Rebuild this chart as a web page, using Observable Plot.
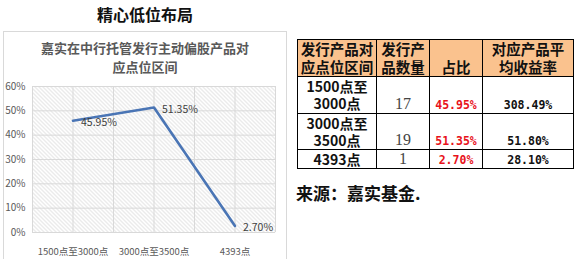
<!DOCTYPE html>
<html><head><meta charset="utf-8">
<script src="https://cdn.jsdelivr.net/npm/d3@7"></script>
<script src="https://cdn.jsdelivr.net/npm/@observablehq/plot@0.6"></script>
<style>
body{margin:0;background:#fff;width:577px;height:259px;overflow:hidden;position:relative;font-family:"Noto Sans CJK SC",sans-serif;}
#title{position:absolute;left:0;width:290px;top:3px;text-align:center;font-weight:bold;font-size:16px;color:#111;line-height:22px;}
#box{position:absolute;left:3px;top:31px;width:282px;height:240px;border:1px solid #d9d9d9;}
#ctitle{position:absolute;left:0;width:290px;top:38px;text-align:center;font-weight:bold;font-size:13px;color:#595959;line-height:19px;}
#chart{position:absolute;left:0;top:72px;}
table{position:absolute;left:297px;top:39px;border-collapse:collapse;table-layout:fixed;}
td{border:1.5px solid #000;padding:0;text-align:center;vertical-align:bottom;}
th{border:1.5px solid #000;padding:0;background:#FAC28E;font-weight:bold;font-size:14.5px;line-height:18px;vertical-align:bottom;color:#111;white-space:nowrap;}
.c1{font-weight:bold;font-size:14px;line-height:17px;vertical-align:middle;color:#111;}
.c2{font-family:"Liberation Serif",serif;font-size:16px;color:#444;line-height:18px;}
.c3{font-family:"DejaVu Sans Mono",monospace;font-weight:bold;font-size:11.5px;color:#e8121b;line-height:16px;}
.c4{font-family:"DejaVu Sans Mono",monospace;font-weight:bold;font-size:11.5px;color:#111;line-height:16px;}
#src{position:absolute;left:296px;top:181px;font-weight:bold;font-size:17px;color:#111;line-height:24px;}
</style></head>
<body>
<div id="title">精心低位布局</div>
<div id="box"></div>
<div id="ctitle">嘉实在中行托管发行主动偏股产品对<br>应点位区间</div>
<div id="chart"></div>
<table id="tbl"></table>
<div id="src">来源：嘉实基金.</div>
<script>
const categories = ["1500点至3000点", "3000点至3500点", "4393点"];
const shares = [45.95, 51.35, 2.70];
const shareLabels = ["45.95%", "51.35%", "2.70%"];
const yTicks = [0, 10, 20, 30, 40, 50, 60];

const headers = ["发行产品对应点位区间", "发行产品数量", "占比", "对应产品平均收益率"];
const headerLines = [["发行产品对", "应点位区间"], ["发行产", "品数量"], ["占比"], ["对应产品平", "均收益率"]];
const rangeLines = [["1500点至", "3000点"], ["3000点至", "3500点"], ["4393点"]];
const counts = [17, 19, 1];
const shareText = ["45.95%", "51.35%", "2.70%"];
const avgReturns = ["308.49%", "51.80%", "28.10%"];

const data = categories.map((c, i) => ({i, c, v: shares[i], label: shareLabels[i]}));
const gridX = d3.range(-0.5, categories.length, 0.5);

const chart = Plot.plot({
  width: 290, height: 187,
  marginLeft: 32, marginRight: 15, marginTop: 14, marginBottom: 27,
  style: {fontFamily: "'Noto Sans CJK SC', sans-serif", fontSize: "10px", color: "#595959", background: "transparent"},
  x: {domain: [-0.5, categories.length - 0.5], axis: null},
  y: {domain: [0, 60], axis: null},
  marks: [
    Plot.frame({fill: "url(#hatch)", stroke: "none"}),
    Plot.ruleY(yTicks, {stroke: "#d9d9d9", strokeWidth: 1}),
    Plot.ruleX(gridX, {stroke: "#d9d9d9", strokeWidth: 1}),
    Plot.axisY(yTicks, {label: null, tickSize: 0, tickPadding: 7, tickFormat: d => d + "%", fill: "#595959", fontSize: 10}),
    Plot.axisX(d3.range(categories.length), {label: null, tickSize: 0, tickPadding: 16, tickFormat: i => categories[i], fill: "#595959", fontSize: 9.5}),
    Plot.line(data, {x: "i", y: "v", stroke: "#4A75B5", strokeWidth: 2.6}),
    Plot.text(data, {x: "i", y: "v", text: "label", textAnchor: "start", dx: 8, dy: 2, fill: "#404040", fontSize: 10.5})
  ]
});
const defs = d3.select(chart).insert("defs", ":first-child");
const pat = defs.append("pattern").attr("id", "hatch").attr("patternUnits", "userSpaceOnUse")
  .attr("width", 4).attr("height", 4);
pat.append("rect").attr("width", 4).attr("height", 4).attr("fill", "#fff");
pat.append("path").attr("d", "M-1,-1 L5,5 M-1,3 L1,5 M3,-1 L5,1").attr("stroke", "#d6d6d6").attr("stroke-width", 1);
document.getElementById("chart").appendChild(chart);

// table
const tbl = document.getElementById("tbl");
const colWidths = [79, 53, 53, 91];
const cg = document.createElement("colgroup");
colWidths.forEach(w => { const c = document.createElement("col"); c.style.width = w + "px"; cg.appendChild(c); });
tbl.appendChild(cg);
const hr = document.createElement("tr"); hr.style.height = "36px";
headerLines.forEach((ls, k) => { const th = document.createElement("th"); th.title = headers[k]; th.innerHTML = ls.join("<br>"); hr.appendChild(th); });
tbl.appendChild(hr);
const rowHeights = [37, 36, 19];
categories.forEach((c, i) => {
  const tr = document.createElement("tr"); tr.style.height = rowHeights[i] + "px";
  const cells = [[rangeLines[i].join("<br>"), "c1"], [String(counts[i]), "c2"], [shareText[i], "c3"], [avgReturns[i], "c4"]];
  cells.forEach(([t, cls]) => { const td = document.createElement("td"); td.className = cls; td.innerHTML = t; tr.appendChild(td); });
  tbl.appendChild(tr);
});
</script>
</body></html>
